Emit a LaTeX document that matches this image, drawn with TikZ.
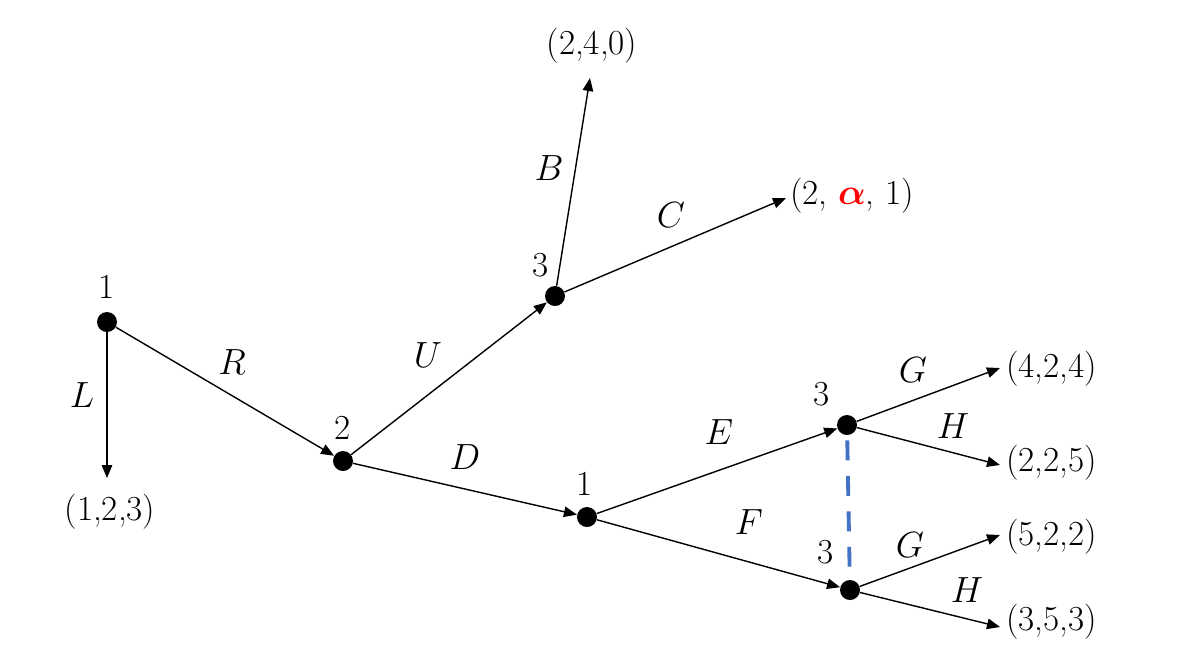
\documentclass[tikz,border=0pt]{standalone}
\usepackage{amsmath}
\usepackage{bm}
\usetikzlibrary{arrows.meta}

\tikzset{
  dot/.style={circle, fill=black, inner sep=0pt, minimum size=0.4cm},
  txt/.style={font=\fontsize{20}{24}\selectfont, inner sep=1pt},
  payoff/.style={txt, anchor=west},
  move/.style={line width=0.8pt, -{Triangle[length=0.26cm,width=0.21cm]}},
  info/.style={line width=2.2pt, color=infoblue, dash pattern=on 0.4cm off 0.31cm,
    shorten <=0.1cm, shorten >=0.26cm},
}
\definecolor{infoblue}{RGB}{68,114,196}

\begin{document}
\begin{tikzpicture}[x=0.02cm, y=-0.02cm]
        \useasboundingbox (0,0) rectangle (1201,664);

        % decision nodes
        \node[dot] (root) at (107,322) {};
        \node[dot] (p2)   at (343,461) {};
        \node[dot] (p3u)  at (555,296) {};
        \node[dot] (p1d)  at (587,517) {};
        \node[dot] (p3e)  at (847,425) {};
        \node[dot] (p3f)  at (850,590) {};

        % players
        \node[txt] (root lab) at (107,287) {1};
        \node[txt] (p2 lab)   at (343,428) {2};
        \node[txt] (p3u lab)  at (541,265) {3};
        \node[txt] (p1d lab)  at (585,484) {1};
        \node[txt] (p3e lab)  at (822,394) {3};
        \node[txt] (p3f lab)  at (826,552) {3};

        % arrow tips at the payoffs
        \coordinate (tL)  at (107,478);
        \coordinate (tB)  at (590,78);
        \coordinate (tC)  at (786,198);
        \coordinate (tG1) at (1000,368);
        \coordinate (tH1) at (1000,465);
        \coordinate (tG2) at (1000,535);
        \coordinate (tH2) at (1000,627);

        % payoffs
        \node[txt]    (zL)  at (110,512)  {(1,2,3)};
        \node[txt]    (zB)  at (592,46)   {(2,4,0)};
        \node[payoff] (zC)  at (788,196)  {(2, $\textcolor{red}{\bm{\alpha}}$, 1)};
        \node[payoff] (zG1) at (1004,369) {(4,2,4)};
        \node[payoff] (zH1) at (1004,463) {(2,2,5)};
        \node[payoff] (zG2) at (1004,537) {(5,2,2)};
        \node[payoff] (zH2) at (1004,622) {(3,5,3)};

        \draw[move] (root) -- (tL);
        \draw[move] (root) -- (p2);
        \draw[move] (p2) -- (p3u);
        \draw[move] (p2) -- (p1d);
        \draw[move] (p3u) -- (tB);
        \draw[move] (p3u) -- (tC);
        \draw[move] (p1d) -- (p3e);
        \draw[move] (p1d) -- (p3f);
        \draw[move] (p3e) -- (tG1);
        \draw[move] (p3e) -- (tH1);
        \draw[move] (p3f) -- (tG2);
        \draw[move] (p3f) -- (tH2);

        % information set
        \draw[info] (p3e) -- (p3f);

        % actions
        \node[txt] (aL)  at (82,395)  {$L$};
        \node[txt] (aR)  at (232,362) {$R$};
        \node[txt] (aU)  at (428,355) {$U$};
        \node[txt] (aD)  at (465,457) {$D$};
        \node[txt] (aB)  at (549,168) {$B$};
        \node[txt] (aC)  at (671,215) {$C$};
        \node[txt] (aE)  at (719,432) {$E$};
        \node[txt] (aF)  at (749,522) {$F$};
        \node[txt] (aG1) at (913,370) {$G$};
        \node[txt] (aH1) at (953,426) {$H$};
        \node[txt] (aG2) at (910,545) {$G$};
        \node[txt] (aH2) at (967,590) {$H$};
\end{tikzpicture}
\end{document}
